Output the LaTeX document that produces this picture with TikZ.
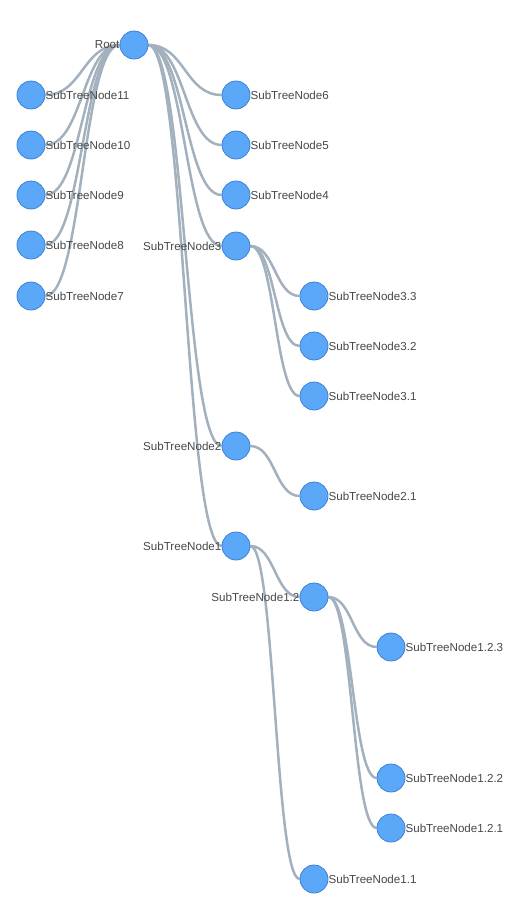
\documentclass[tikz,border=0pt]{standalone}
\usepackage{fontspec}
\newfontfamily\lblfont{Liberation Sans}
\usetikzlibrary{calc}
\pgfdeclarelayer{background}
\pgfsetlayers{background,main}
\definecolor{nodefill}{HTML}{5CA8F8}
\definecolor{nodeline}{HTML}{3C7FD6}
\definecolor{edgecol}{HTML}{A3B1BF}
\definecolor{txtcol}{HTML}{474747}
\newcommand\hedge[4]{\draw[treeedge] let \p1=(#1.#3), \p2=(#2.#4) in (\p1) .. controls ({(\x1+\x2)/2},\y1) and ({(\x1+\x2)/2},\y2) .. (\p2);}
\tikzset{
  treenode/.style={circle, minimum size=28pt, inner sep=0pt, fill=nodefill, draw=nodeline, line width=0.8pt},
  lbl/.style={inner sep=0pt, text=txtcol, font=\lblfont\fontsize{11.6}{13}\selectfont},
  rl/.style={label={[lbl]east:#1}},
  ll/.style={label={[lbl]west:#1}},
  treeedge/.style={draw=edgecol, line width=2.5pt}
}
\begin{document}
\begin{tikzpicture}[x=1pt,y=-1pt]
\useasboundingbox (0,0) rectangle (526,910);
% root
\node[treenode, ll=Root] (root) at (134,45) {};
% left
\node[treenode, rl=SubTreeNode11] (n11) at (31,95) {};
\node[treenode, rl=SubTreeNode10] (n10) at (31,145) {};
\node[treenode, rl=SubTreeNode9] (n9) at (31,195) {};
\node[treenode, rl=SubTreeNode8] (n8) at (31,245) {};
\node[treenode, rl=SubTreeNode7] (n7) at (31,296) {};
% right
\node[treenode, rl=SubTreeNode6] (n6) at (236,95) {};
\node[treenode, rl=SubTreeNode5] (n5) at (236,145) {};
\node[treenode, rl=SubTreeNode4] (n4) at (236,195) {};
\node[treenode, ll=SubTreeNode3] (n3) at (236,246) {};
\node[treenode, rl=SubTreeNode3.3] (n33) at (314,296) {};
\node[treenode, rl=SubTreeNode3.2] (n32) at (314,346) {};
\node[treenode, rl=SubTreeNode3.1] (n31) at (314,396) {};
\node[treenode, ll=SubTreeNode2] (n2) at (236,446) {};
\node[treenode, rl=SubTreeNode2.1] (n21) at (314,496) {};
\node[treenode, ll=SubTreeNode1] (n1) at (236,546) {};
\node[treenode, ll=SubTreeNode1.2] (n12) at (314,597) {};
\node[treenode, rl=SubTreeNode1.2.3] (n123) at (391,647) {};
\node[treenode, rl=SubTreeNode1.2.2] (n122) at (391,778) {};
\node[treenode, rl=SubTreeNode1.2.1] (n121) at (391,828) {};
\node[treenode, rl=SubTreeNode1.1] (n11b) at (314,879) {};
\begin{pgfonlayer}{background}
\foreach \c in {n11,n10,n9,n8,n7}{\hedge{root}{\c}{west}{east}}
\foreach \c in {n6,n5,n4,n3,n2,n1}{\hedge{root}{\c}{east}{west}}
\foreach \c in {n33,n32,n31}{\hedge{n3}{\c}{east}{west}}
\hedge{n2}{n21}{east}{west}
\hedge{n1}{n12}{east}{west}
\hedge{n1}{n11b}{east}{west}
\foreach \c in {n123,n122,n121}{\hedge{n12}{\c}{east}{west}}
\end{pgfonlayer}
\end{tikzpicture}
\end{document}
